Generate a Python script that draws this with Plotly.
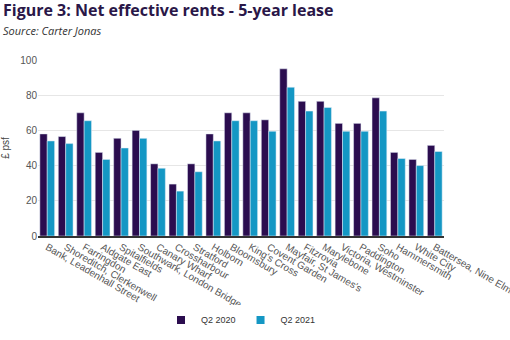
import plotly.graph_objects as go

categories = ["Bank, Leadenhall Street", "Shoreditch, Clerkenwell", "Farringdon", "Aldgate East",
              "Spitalfields", "Southwark, London Bridge", "Canary Wharf", "Crossharbour", "Stratford",
              "Holborn", "Bloomsbury", "King's Cross", "Covent Garden", "Mayfair, St James's",
              "Fitzrovia", "Marylebone", "Victoria, Westminster", "Paddington", "Soho",
              "Hammersmith", "White City", "Battersea, Nine Elms"]
q2_2020 = [58, 56.5, 70, 47.5, 55.5, 60, 41, 29.5, 41, 58, 70, 70, 66, 95, 76.5, 76.5, 64, 64, 78.5, 47.5, 43.5, 51.5]
q2_2021 = [54, 52.5, 65.5, 43.5, 50, 55.5, 38.5, 25.5, 36.5, 54, 65.5, 65.5, 59.5, 84.5, 71, 73, 59.5, 59.5, 71, 44, 40, 48]
y_ticks = [0, 20, 40, 60, 80, 100]
series = [("Q2 2020", q2_2020, "#2b0d4f"), ("Q2 2021", q2_2021, "#1497c4")]

fig = go.Figure()
for name, vals, col in series:
    fig.add_trace(go.Bar(name=name, x=categories, y=vals, marker_color=col, showlegend=False))
for name, vals, col in series:
    fig.add_trace(go.Scatter(name=name, x=[None], y=[None], mode="markers",
                             marker=dict(symbol="square", size=8, color=col)))

fig.update_layout(
    width=510, height=340,
    margin=dict(l=38, r=66, t=60, b=104, autoexpand=False),
    paper_bgcolor="white", plot_bgcolor="white",
    barmode="group", bargap=0.2, bargroupgap=0,
    font=dict(family="Liberation Sans", size=10, color="#555555"),
    showlegend=True,
    legend=dict(orientation="h", x=0.5, xanchor="center", y=-0.477, yanchor="middle",
                font=dict(family="Liberation Sans", size=9, color="#333333"), itemwidth=30),
    annotations=[
        dict(text="<b>Figure 3: Net effective rents - 5-year lease</b>", xref="paper", yref="paper",
             x=-37/406, y=1 + 50/176, xanchor="left", yanchor="middle", showarrow=False,
             font=dict(family="Open Sans", size=16, color="#2a1748")),
        dict(text="<i>Source: Carter Jonas</i>", xref="paper", yref="paper",
             x=-37/406, y=1 + 30/176, xanchor="left", yanchor="middle", showarrow=False,
             font=dict(family="Open Sans", size=11, color="#333333")),
    ],
)
fig.update_xaxes(tickangle=30, showline=True, linecolor="#333333", linewidth=1.5, automargin=False,
                 ticks="", tickfont=dict(family="Liberation Sans", size=10, color="#555555"))
fig.update_yaxes(range=[0, 100], tickvals=y_ticks, showgrid=True, gridcolor="#e6e6e6",
                 zeroline=False, automargin=False,
                 tickfont=dict(family="Liberation Sans", size=10, color="#555555"),
                 title=dict(text="£ psf", font=dict(family="Liberation Sans", size=10, color="#444444"),
                            standoff=8))

fig.write_html("out.html")
